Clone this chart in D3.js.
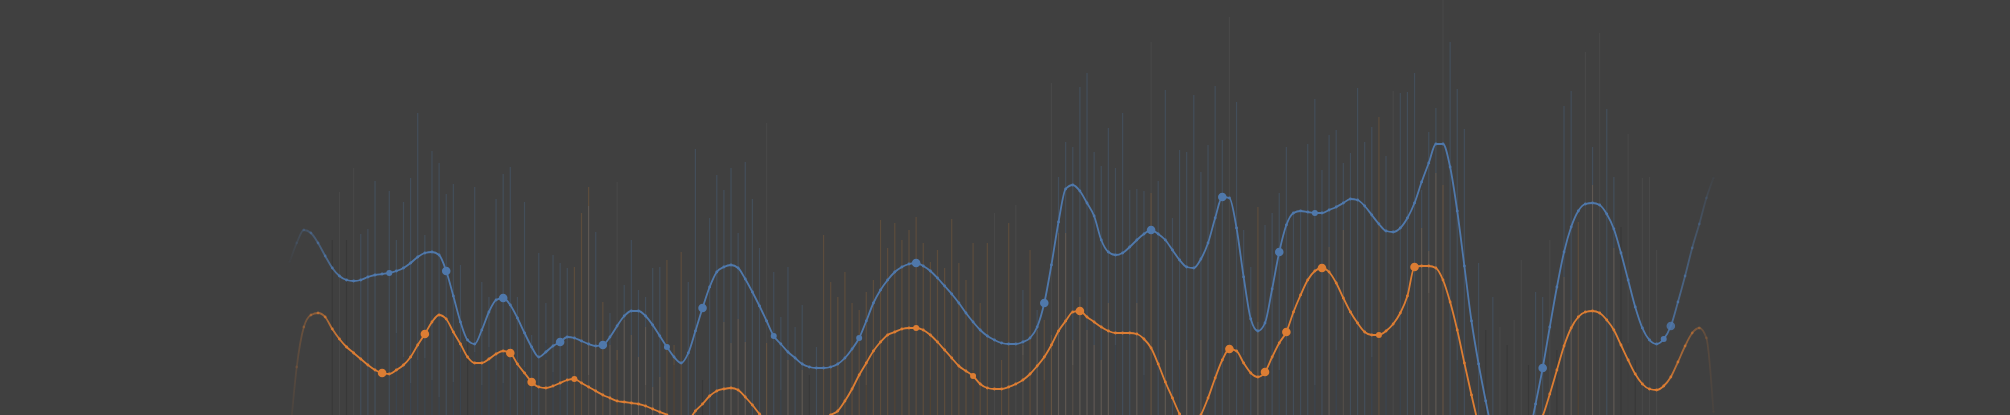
<!DOCTYPE html>
<html><head><meta charset="utf-8">
<script src="https://cdn.jsdelivr.net/npm/d3@7"></script>
<style>html,body{margin:0;padding:0;background:#404040;overflow:hidden}</style>
</head><body><svg id="c" width="2010" height="415"></svg>
<script>
// index of the first value in the line arrays (spike arrays start at index 0)
const lineStart = -6;
const blueLine = [153,172,185,182,172,159,
147,139,135,134,135,138,140,141,142,144,
147,152,158,162,163,160,144,119,93,75,
71,85,103,115,117,110,97,82,68,58,
63,69,73,78,77,74,71,69,70,78,
89,99,104,104,99,90,79,68,58,52,
62,84,107,128,143,148,150,147,136,123,
109,94,79,71,63,57,51,48,47,47,
48,51,57,66,77,94,112,125,135,143,
148,151,152,149,144,137,129,121,112,102,
93,85,79,75,72,71,71,73,77,88,
112,150,193,226,230,224,212,199,175,163,
160,162,168,175,181,185,181,175,165,155,
148,147,156,172,197,218,217,187,138,96,
84,92,126,163,190,202,204,203,202,202,
205,208,212,216,215,209,200,191,184,183,
187,197,212,233,252,271,271,248,204,149,
94,51,14,-20,-47,-60,-60,-47,-23,11,
47,88,128,163,188,204,211,212,210,201,
186,162,135,108,87,75,71,76,89,113,
139,167,191,217,237];
const orangeLine = [-25,48,88,100,102,98,
86,76,68,62,56,50,45,42,41,45,
50,58,70,81,93,100,96,83,71,58,
52,52,56,61,64,62,51,42,33,28,
27,29,32,35,36,32,28,24,20,17,
14,13,12,11,9,6,3,0,-8,-10,
-6,4,11,19,24,26,27,25,18,10,
1,-7,-13,-17,-19,-19,-18,-15,-10,-5,
0,4,14,26,40,52,64,73,80,83,
86,87,87,85,80,73,65,57,49,44,
39,31,27,26,26,28,31,35,41,49,
58,70,84,94,103,104,98,93,88,84,
82,82,82,81,76,67,51,33,17,1,
-11,-13,0,17,37,55,66,64,52,42,
38,43,58,72,83,103,120,135,144,147,
143,132,117,103,92,83,80,80,84,91,
102,119,148,149,149,147,135,113,85,52,
20,-10,-35,-53,-63,-65,-60,-48,-32,-15,
-1,21,45,69,87,98,103,104,102,95,
85,70,55,41,31,26,25,29,38,53,
69,82,87,77,3];

// highlighted points: [index]
const blueBig = [16,24,32,38,52,82,100,115,125,133,170,188];
const blueMid = [8,47,62,74,138,187];
const orangeBig = [7,13,25,28,105,126,131,134,139,152];
const orangeMid = [34,82,90,147];

// background spikes: [index, top value]
const blueSpikes = [[4,181],[5,186],[6,234],[8,224],[9,175],[10,213],[11,237],[12,302],[13,180],[14,264],[15,252],[16,221],[17,231],[18,150],[20,228],[21,133],[22,118],[23,216],[24,241],[25,248],[26,118],[27,213],[28,80],[29,162],[30,112],[31,160],[32,152],[33,147],[36,209],[37,183],[39,102],[41,130],[42,175],[43,125],[44,118],[45,147],[46,148],[50,133],[51,266],[53,197],[54,240],[55,225],[56,247],[57,182],[58,253],[59,216],[60,167],[62,143],[63,98],[64,148],[65,88],[66,110],[68,68],[97,125],[99,105],[102,238],[103,273],[104,268],[105,328],[106,342],[107,263],[108,249],[109,287],[110,247],[111,302],[112,225],[113,226],[114,224],[116,234],[117,325],[118,197],[119,265],[120,263],[121,320],[122,243],[123,270],[124,329],[125,275],[127,313],[128,185],[129,148],[130,93],[131,190],[132,202],[133,222],[134,268],[135,203],[136,202],[137,271],[138,316],[139,245],[140,280],[141,285],[142,252],[143,262],[144,327],[145,273],[146,288],[148,259],[150,322],[151,323],[152,342],[153,225],[154,283],[155,307],[157,373],[158,326],[159,286],[161,152],[163,118],[169,123],[170,118],[173,309],[174,324],[177,268],[179,306],[180,238]];
const orangeSpikes = [[30,55],[34,148],[35,202],[36,228],[37,85],[38,113],[39,70],[40,65],[41,95],[42,80],[43,58],[44,88],[45,28],[46,38],[47,155],[48,70],[49,163],[55,93],[56,72],[57,96],[58,73],[61,72],[64,55],[66,45],[69,180],[70,133],[71,118],[72,143],[73,112],[74,105],[75,123],[76,135],[77,195],[78,167],[79,192],[80,175],[81,185],[82,198],[83,172],[84,153],[85,165],[86,147],[87,196],[88,152],[89,135],[90,172],[91,112],[92,172],[94,55],[95,192],[97,70],[98,165],[99,85],[100,95],[101,80],[102,182],[103,182],[104,75],[105,118],[106,85],[107,70],[108,55],[109,112],[113,112],[115,222],[117,75],[120,65],[122,75],[130,208],[140,168],[142,185],[147,298],[153,187],[154,164],[155,242],[156,230],[173,138],[174,115],[175,193],[177,230],[180,167]];
const greySpikes = [[1,223],[3,247],[40,233],[61,292],[93,202],[96,210],[101,332],[115,373],[126,398],[149,324],[156,415],[164,88],[166,95],[167,155],[171,175],[176,363],[178,382],[182,281],[184,237],[185,238],[186,165]];
const darkSpikes = [[0,175],[2,175],[9,82],[10,58],[11,32],[12,55],[13,57],[14,35],[15,18],[17,33],[18,63],[19,78],[20,63],[21,30],[22,68],[23,45],[24,32],[25,15],[27,48],[30,72],[31,43],[32,25],[36,40],[40,55],[44,30],[48,50],[52,35],[57,45],[63,25],[67,40],[75,30],[79,55],[84,35],[90,45],[97,60],[100,35],[104,50],[110,70],[114,40],[119,55],[123,35],[128,60],[133,45],[138,30],[141,65],[142,75],[146,58],[148,115],[150,75],[154,122],[158,55],[162,85],[165,70],[168,50],[172,65],[175,35],[181,188],[182,72],[183,55]];

const W = 2010, H = 415;
const BLUE = "#4f78ab", ORANGE = "#dc7d33";
const svg = d3.select("#c");
svg.append("rect").attr("width", W).attr("height", H).attr("fill", "#404040");

const x = d3.scaleLinear().domain([0, 186]).range([332.3, 1656.6]);
const y = d3.scaleLinear().domain([0, 415]).range([415, 0]);

const fadeL0 = 288, fadeL1 = 345, fadeR1 = 1662, fadeR0 = 1716;
const fade = px => Math.max(0, Math.min(1, (px - fadeL0) / (fadeL1 - fadeL0))) *
                   Math.max(0, Math.min(1, (fadeR0 - px) / (fadeR0 - fadeR1)));

const defs = svg.append("defs");
function grad(id, color) {
  const g = defs.append("linearGradient").attr("id", id)
    .attr("gradientUnits", "userSpaceOnUse")
    .attr("x1", fadeL0).attr("x2", fadeR0).attr("y1", 0).attr("y2", 0);
  const span = fadeR0 - fadeL0;
  [[0, 0], [(fadeL1 - fadeL0) / span, 1], [(fadeR1 - fadeL0) / span, 1], [1, 0]]
    .forEach(([o, a]) => g.append("stop").attr("offset", o)
      .attr("stop-color", color).attr("stop-opacity", a));
}
grad("gBlue", BLUE);
grad("gOrange", ORANGE);

function spikes(data, color, op) {
  svg.append("g").selectAll("line").data(data).join("line")
    .attr("x1", d => x(d[0])).attr("x2", d => x(d[0]))
    .attr("y1", d => y(d[1])).attr("y2", y(0))
    .attr("stroke", color).attr("stroke-opacity", op).attr("stroke-width", 1.2);
}
spikes(greySpikes, "#ffffff", 0.045);
spikes(blueSpikes, "#4e79a7", 0.26);
spikes(orangeSpikes, "#f28e2b", 0.16);
spikes(darkSpikes, "#000000", 0.12);

const lineGen = d3.line()
  .x((d, i) => x(i + lineStart))
  .y(d => y(d))
  .curve(d3.curveMonotoneX);

function series(vals, color, gid, big, mid) {
  svg.append("path").datum(vals).attr("d", lineGen)
    .attr("fill", "none").attr("stroke", `url(#${gid})`).attr("stroke-width", 1.8);
  const pts = vals.map((v, i) => ({ k: i + lineStart, v }))
    .filter(p => y(p.v) < H + 6 && fade(x(p.k)) > 0);
  svg.append("g").selectAll("circle").data(pts).join("circle")
    .attr("cx", d => x(d.k)).attr("cy", d => y(d.v))
    .attr("r", d => big.includes(d.k) ? 4.3 : mid.includes(d.k) ? 3 : 1.4)
    .attr("fill", color)
    .attr("fill-opacity", d => fade(x(d.k)));
}
series(blueLine, BLUE, "gBlue", blueBig, blueMid);
series(orangeLine, ORANGE, "gOrange", orangeBig, orangeMid);
</script>
</body></html>
